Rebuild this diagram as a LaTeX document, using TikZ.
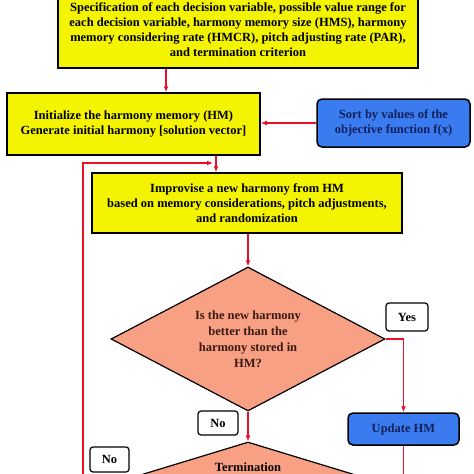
\documentclass[tikz,border=0pt]{standalone}
\usepackage{fontspec}
\setmainfont{Liberation Serif}
\usetikzlibrary{shapes.geometric, arrows.meta}
\definecolor{boxyellow}{HTML}{F4F400}
\definecolor{boxblue}{HTML}{3A7BF0}
\definecolor{textblue}{HTML}{12205A}
\definecolor{salmon}{HTML}{F8A083}
\definecolor{textbrown}{HTML}{3A1A10}
\definecolor{arrred}{HTML}{E8102A}
\begin{document}
\begin{tikzpicture}[x=1pt, y=-1pt, thick,
    font=\bfseries\fontsize{12.5}{15}\selectfont,
    ybox/.style={draw, line width=1.5pt, fill=boxyellow, align=center, inner sep=0pt},
    bbox/.style={draw, line width=1.5pt, fill=boxblue, text=textblue, rounded corners=5pt, align=center, inner sep=0pt},
    dbox/.style={draw, line width=1.2pt, fill=salmon, text=textbrown, diamond, aspect=1.9, align=center, inner sep=0pt},
    lbox/.style={draw, line width=1.2pt, fill=white, rounded corners=3pt, inner sep=0pt},
    arr/.style={draw=arrred, line width=1.3pt, -{Latex[length=6pt, width=5pt]}}]
  \useasboundingbox (0,0) rectangle (474,474);
  \begin{scope}
    \clip (0,0) rectangle (474,474);
    \node [ybox, minimum width=360pt, minimum height=76pt] (spec) at (238,30) {Specification of each decision variable, possible value range for\\each decision variable, harmony memory size (HMS), harmony\\memory considering rate (HMCR), pitch adjusting rate (PAR),\\and termination criterion};
    \node [ybox, minimum width=253pt, minimum height=62pt] (init) at (133.5,124) {Initialize the harmony memory (HM)\\Generate initial harmony [solution vector]};
    \node [bbox, minimum width=153pt, minimum height=48pt] (sort) at (393.5,123) {Sort by values of the\\objective function f(x)};
    \node [ybox, minimum width=310pt, minimum height=60pt] (impr) at (247,203) {Improvise a new harmony from HM\\based on memory considerations, pitch adjustments,\\and randomization};
    \node [dbox, minimum width=274pt, minimum height=144pt, font=\bfseries\fontsize{12.5}{16}\selectfont] (better) at (248,339) {Is the new harmony\\better than the\\harmony stored in\\HM?};
    \node [bbox, minimum width=111pt, minimum height=32pt] (update) at (403.5,429) {Update HM};
    \node [dbox, minimum width=314pt, minimum height=96pt] (term) at (248,490) {};
    \node (termtxt) at (248,467) {Termination};
    \node [lbox, minimum width=42pt, minimum height=28pt] (yes) at (407,317) {Yes};
    \node [lbox, minimum width=40pt, minimum height=24pt] (no1) at (218,423) {No};
    \node [lbox, minimum width=39pt, minimum height=25pt] (no2) at (109.5,459.5) {No};
    \coordinate (back) at (83,490);
    \coordinate (join) at (213,163);
    \coordinate (down) at (403.5,490);
    \draw [arr] ([xshift=-72pt]spec.south) -- ([xshift=-72pt]spec.south |- init.north);
    \draw [arr] (sort.west) -- (sort.west -| init.east);
    \draw [arr] ([xshift=82.5pt]init.south) -- ([xshift=82.5pt]init.south |- impr.north);
    \draw [arr] (term.west) -- (back) |- (join);
    \draw [arr] (better.north |- impr.south) -- (better.north);
    \draw [arr] (better.east) -| (update.north);
    \draw [arr] (better.south) -- (term.north);
    \draw [draw=arrred, line width=1.3pt] (update.south) -- (down);
  \end{scope}
\end{tikzpicture}
\end{document}
